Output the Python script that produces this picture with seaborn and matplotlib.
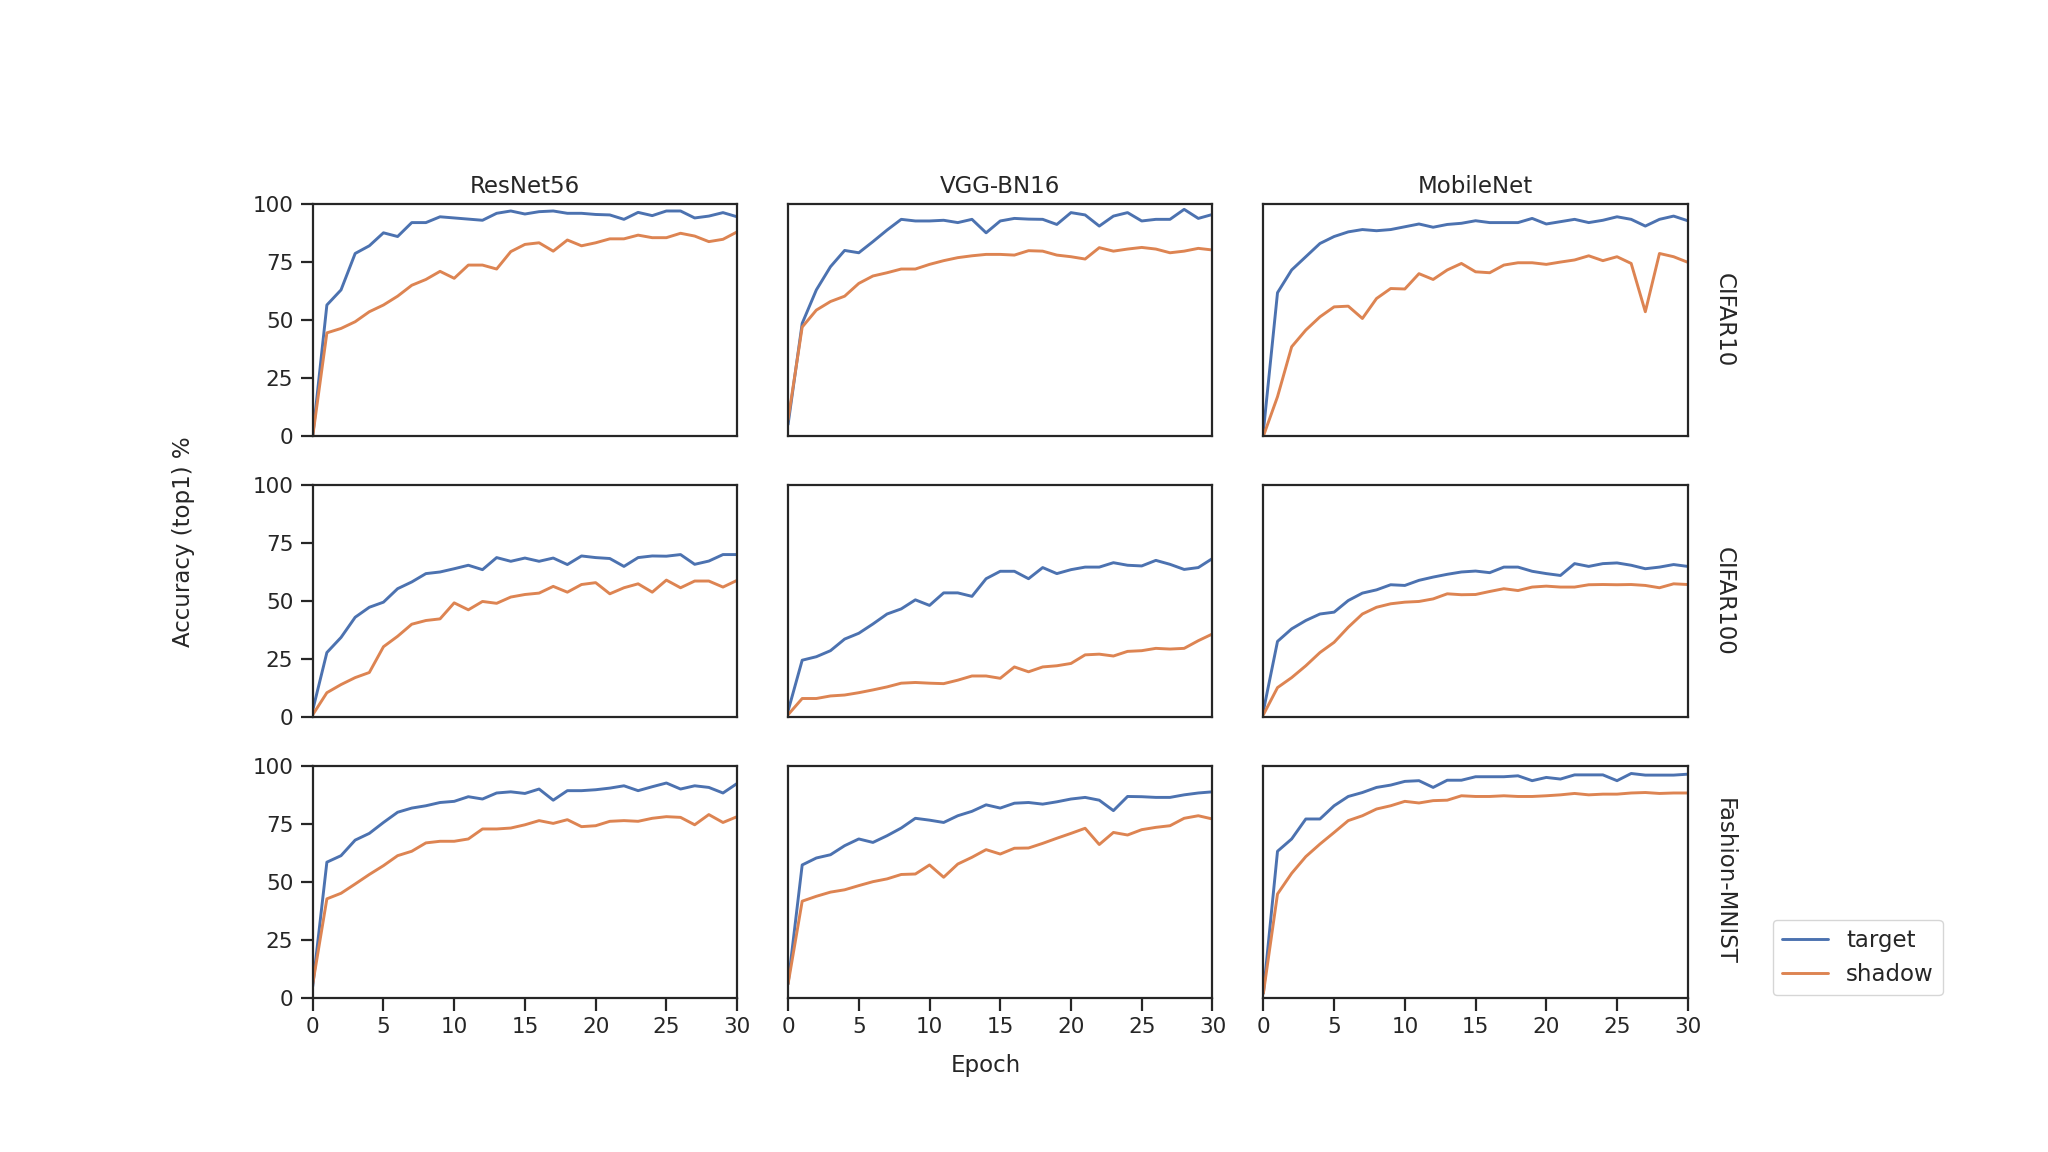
import numpy as np
import pandas as pd
import matplotlib
matplotlib.use("Agg")
import matplotlib.pyplot as plt
import seaborn as sns

# ---- data (one value per epoch 0..30) ----
epochs = list(range(31))
models = ["ResNet56", "VGG-BN16", "MobileNet"]
datasets = ["CIFAR10", "CIFAR100", "Fashion-MNIST"]
series_names = ["target", "shadow"]

resnet_cifar10_target = [0, 56.5, 63, 78.7, 82, 87.6, 86, 92, 92, 94.5, 94, 93.5, 93, 96, 97, 95.7,
                         96.7, 97, 96, 96, 95.5, 95.3, 93.4, 96.4, 95, 97, 97, 94, 94.8, 96.3, 94.5]
resnet_cifar10_shadow = [0, 44.5, 46.4, 49.3, 53.6, 56.5, 60.3, 65, 67.5, 71, 68, 73.7, 73.7, 72, 79.5, 82.6,
                         83.3, 79.7, 84.5, 82, 83.3, 85, 85, 86.6, 85.5, 85.5, 87.4, 86.2, 83.8, 84.8, 88]
vgg_cifar10_target = [5, 48.6, 63, 73, 80, 79, 83.8, 88.8, 93.4, 92.7, 92.7, 93, 92, 93.4, 87.6, 92.7,
                      93.8, 93.5, 93.4, 91.2, 96.3, 95.3, 90.5, 94.8, 96.3, 92.7, 93.4, 93.4, 97.7, 93.8, 95.5]
vgg_cifar10_shadow = [7, 47, 54.3, 58, 60.3, 65.8, 69, 70.4, 72, 72, 74, 75.6, 76.9, 77.7, 78.3, 78.3,
                      78, 79.9, 79.7, 78, 77.3, 76.3, 81.2, 79.7, 80.6, 81.3, 80.6, 79, 79.7, 80.9, 80.2]
mobilenet_cifar10_target = [2, 61.8, 71.6, 77.3, 83, 86, 88, 89, 88.5, 89, 90.2, 91.4, 90, 91.2, 91.7, 92.8,
                            92, 92, 92, 93.8, 91.4, 92.4, 93.4, 92, 93, 94.5, 93.4, 90.5, 93.4, 94.8, 92.8]
mobilenet_cifar10_shadow = [0, 17, 38.5, 45.7, 51.4, 55.7, 56, 50.7, 59.3, 63.6, 63.4, 70, 67.5, 71.6, 74.4, 70.8,
                            70.4, 73.7, 74.7, 74.7, 74, 75, 75.9, 77.7, 75.6, 77.3, 74.4, 53.6, 78.7, 77.3, 74.9]

resnet_cifar100_target = [3, 27.8, 34.3, 43, 47.3, 49.5, 55.3, 58.2, 61.8, 62.5, 63.9, 65.4, 63.5, 68.7, 67.1, 68.5,
                          67.1, 68.5, 65.7, 69.4, 68.7, 68.3, 64.9, 68.7, 69.4, 69.3, 70, 65.8, 67.2, 70, 70]
resnet_cifar100_shadow = [1, 10.5, 14, 17, 19.2, 30.3, 34.8, 40, 41.6, 42.3, 49.2, 46.2, 49.8, 49, 51.7, 52.8,
                          53.4, 56.3, 53.8, 57.1, 57.9, 53.1, 55.7, 57.4, 53.8, 59, 55.7, 58.6, 58.6, 56, 58.9]
vgg_cifar100_target = [2.6, 24.5, 26, 28.6, 33.6, 36.1, 40.1, 44.4, 46.6, 50.5, 48.1, 53.5, 53.5, 52, 59.6, 62.8,
                       62.8, 59.6, 64.4, 61.8, 63.5, 64.6, 64.6, 66.5, 65.4, 65.1, 67.5, 65.8, 63.6, 64.4, 68.3]
vgg_cifar100_shadow = [1, 8, 8, 9.1, 9.5, 10.5, 11.7, 13, 14.6, 14.9, 14.6, 14.4, 15.9, 17.7, 17.7, 16.7,
                       21.6, 19.5, 21.6, 22.1, 23.1, 26.8, 27.1, 26.3, 28.3, 28.6, 29.6, 29.3, 29.6, 32.9, 35.8]
mobilenet_cifar100_target = [2.6, 32.6, 38, 41.6, 44.4, 45.2, 50.2, 53.4, 54.8, 57, 56.7, 58.9, 60.3, 61.5, 62.5, 62.9,
                             62.2, 64.6, 64.6, 62.8, 61.8, 61, 66.1, 64.9, 66.1, 66.4, 65.4, 63.9, 64.6, 65.7, 64.9]
mobilenet_cifar100_shadow = [1, 12.7, 17, 22.1, 27.8, 32.2, 38.7, 44.4, 47.3, 48.8, 49.5, 49.8, 50.9, 53.1, 52.7, 52.8,
                             54.1, 55.3, 54.5, 56, 56.4, 56, 56, 57, 57.1, 57, 57.1, 56.7, 55.7, 57.4, 57.1]

resnet_fmnist_target = [5, 58.5, 61.3, 68, 70.9, 75.6, 80, 81.8, 82.8, 84.2, 84.7, 86.7, 85.7, 88.3, 88.8, 88.1,
                        90, 85.2, 89.3, 89.3, 89.7, 90.4, 91.4, 89.3, 91, 92.6, 90, 91.4, 90.7, 88.3, 92.4]
resnet_fmnist_shadow = [6, 42.7, 45.1, 49.1, 53.2, 57, 61.3, 63.2, 66.8, 67.5, 67.5, 68.5, 72.8, 72.8, 73.2, 74.6,
                        76.4, 75.2, 76.8, 73.8, 74.2, 76.1, 76.4, 76.1, 77.4, 78.1, 77.8, 74.6, 79, 75.6, 78.1]
vgg_fmnist_target = [6, 57.3, 60.3, 61.7, 65.6, 68.5, 67, 69.9, 73.2, 77.4, 76.6, 75.6, 78.5, 80.4, 83.2, 81.8,
                     83.9, 84.2, 83.5, 84.5, 85.7, 86.4, 85.2, 80.7, 86.8, 86.7, 86.4, 86.4, 87.5, 88.3, 88.8]
vgg_fmnist_shadow = [6, 41.7, 43.8, 45.6, 46.6, 48.4, 50.1, 51.3, 53.2, 53.4, 57.3, 52, 57.7, 60.6, 63.9, 62,
                     64.5, 64.6, 66.6, 68.8, 70.9, 73.1, 66.1, 71.3, 70.2, 72.5, 73.5, 74.2, 77.4, 78.5, 77.1]
mobilenet_fmnist_target = [2, 63.2, 68.5, 77.1, 77.1, 82.8, 86.8, 88.5, 90.7, 91.7, 93.3, 93.6, 90.7, 93.8, 93.8, 95.3,
                           95.3, 95.3, 95.7, 93.6, 95, 94.3, 96.1, 96.1, 96.1, 93.6, 96.7, 96, 96, 96, 96.4]
mobilenet_fmnist_shadow = [2, 44.8, 53.7, 60.9, 66.3, 71.3, 76.4, 78.5, 81.4, 82.8, 84.7, 84, 85, 85.2, 87.1, 86.8,
                           86.8, 87.1, 86.8, 86.8, 87.1, 87.5, 88.1, 87.5, 87.8, 87.8, 88.3, 88.5, 88.1, 88.3, 88.3]

curves = {
    ("CIFAR10", "ResNet56"): (resnet_cifar10_target, resnet_cifar10_shadow),
    ("CIFAR10", "VGG-BN16"): (vgg_cifar10_target, vgg_cifar10_shadow),
    ("CIFAR10", "MobileNet"): (mobilenet_cifar10_target, mobilenet_cifar10_shadow),
    ("CIFAR100", "ResNet56"): (resnet_cifar100_target, resnet_cifar100_shadow),
    ("CIFAR100", "VGG-BN16"): (vgg_cifar100_target, vgg_cifar100_shadow),
    ("CIFAR100", "MobileNet"): (mobilenet_cifar100_target, mobilenet_cifar100_shadow),
    ("Fashion-MNIST", "ResNet56"): (resnet_fmnist_target, resnet_fmnist_shadow),
    ("Fashion-MNIST", "VGG-BN16"): (vgg_fmnist_target, vgg_fmnist_shadow),
    ("Fashion-MNIST", "MobileNet"): (mobilenet_fmnist_target, mobilenet_fmnist_shadow),
}

rows = []
for (dset, model), pair in curves.items():
    for name, values in zip(series_names, pair):
        for ep, acc in zip(epochs, values):
            rows.append({"dataset": dset, "model": model, "net": name,
                         "epoch": ep, "acc": acc})
df = pd.DataFrame(rows)

# ---- style ----
sns.set_theme(style="ticks", rc={
    "axes.linewidth": 1.6,
    "xtick.major.size": 9, "ytick.major.size": 9,
    "xtick.major.width": 1.6, "ytick.major.width": 1.6,
    "xtick.major.pad": 5, "ytick.major.pad": 5,
    "xtick.labelsize": 15.5, "ytick.labelsize": 15.5,
    "axes.titlesize": 16.5, "axes.labelsize": 16.5,
    "legend.fontsize": 16.5,
    "axes.edgecolor": ".15",
})
plt.rcParams["font.family"] = ["DejaVu Sans"]

g = sns.relplot(
    data=df, x="epoch", y="acc", hue="net", row="dataset", col="model",
    row_order=datasets, col_order=models, hue_order=series_names,
    kind="line", linewidth=2.1,
    facet_kws=dict(despine=False, sharex=True, sharey=True),
)

fig = g.figure
fig.set_size_inches(20.48, 11.52)
fig.subplots_adjust(left=0.1527, right=0.8241, top=0.8229, bottom=0.1337,
                    wspace=0.12, hspace=0.21)

g.set_titles("")
g.set_axis_labels("", "")
g.set(xlim=(0, 30), ylim=(0, 100),
      xticks=[0, 5, 10, 15, 20, 25, 30], yticks=[0, 25, 50, 75, 100])

# inner panels carry no tick marks
n_rows, n_cols = g.axes.shape
for i in range(n_rows):
    for j in range(n_cols):
        ax = g.axes[i, j]
        if i < n_rows - 1:
            ax.tick_params(axis="x", length=0)
        if j > 0:
            ax.tick_params(axis="y", length=0)

for j, model in enumerate(models):
    g.axes[0, j].set_title(model, pad=8)
for i, dset in enumerate(datasets):
    g.axes[i, -1].annotate(dset, xy=(1.06, 0.5), xycoords="axes fraction",
                           rotation=270, ha="left", va="center",
                           fontsize=16.5, color=".15")

fig.text(0.0894, 0.5295, "Accuracy (top1) %", rotation=90,
         ha="center", va="center", fontsize=16.5, color=".15")
fig.text(0.4814, 0.0747, "Epoch", ha="center", va="center",
         fontsize=16.5, color=".15")

sns.move_legend(g, "lower left", bbox_to_anchor=(0.860, 0.126),
                title=None, frameon=True)

fig.savefig("out.png", dpi=100)
